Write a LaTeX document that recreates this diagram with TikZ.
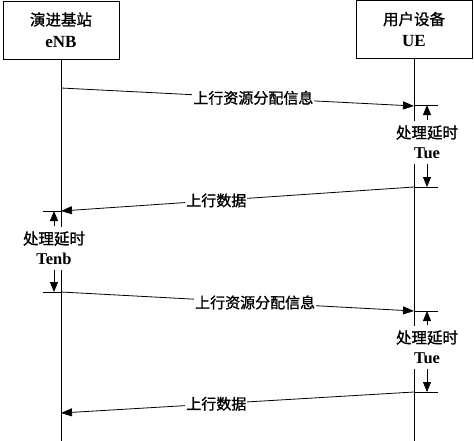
\documentclass[tikz,border=0pt]{standalone}
\usepackage{fontspec}
\setmainfont{Liberation Serif}
\newfontfamily\cjk[FakeBold=1.2]{Noto Sans CJK SC}
\usetikzlibrary{arrows.meta}
\begin{document}
\begin{tikzpicture}[x=1pt,y=-1pt,
  box/.style={draw, line width=0.9pt, minimum width=116pt, minimum height=58pt, align=center, inner sep=0pt,
    font=\fontsize{15.5}{22}\selectfont},
  life/.style={line width=0.9pt},
  msg/.style={draw, line width=0.8pt, -{Triangle[length=11pt,width=8pt]}},
  lbl/.style={fill=white, inner sep=1pt, font=\cjk\fontsize{15}{16}\selectfont},
  delay/.style={fill=white, align=center, inner sep=1pt, minimum height=43pt, font=\fontsize{15.5}{20}\selectfont},
  dly/.style={line width=0.8pt, -{Triangle[length=10pt,width=8pt]}},
  tick/.style={line width=0.8pt},
  lat/.style={}]
\useasboundingbox (0,0) rectangle (474,440);
% actors
\node[box] (enb) at (61,30) {{\cjk 演进基站}\\{\fontsize{17}{22}\selectfont\bfseries eNB}};
\node[box] (ue) at (414,29.5) {{\cjk 用户设备}\\{\fontsize{17}{22}\selectfont\bfseries UE}};
\coordinate (enbend) at (61,441);
\coordinate (ueend) at (414,441);
\draw[life] (enb.south) -- (enbend);
\draw[life] (ue.south) -- (ueend);
% message 1
\coordinate (m1s) at (61,88);
\coordinate (m1e) at (414,106);
\draw[msg] (m1s) -- node[lbl, pos=0.545] (l1) {上行资源分配信息} (m1e);
% UE delay 1
\coordinate (u1a) at (414,105);
\coordinate (u1b) at (438,105);
\coordinate (u1c) at (414,187);
\coordinate (u1d) at (438,187);
\draw[tick] (u1a) -- (u1b);
\draw[tick] (u1c) -- (u1d);
\node[delay] (d1) at (427,142) {{\cjk 处理延时}\\{\fontsize{16.5}{20}\selectfont\bfseries Tue}};
\draw[dly] (d1.north) -- (d1.north |- u1a);
\draw[dly] (d1.south) -- (d1.south |- u1c);
% message 2
\coordinate (m2s) at (414,187);
\coordinate (m2e) at (61,211);
\draw[msg] (m2s) -- node[lbl, pos=0.56] (l2) {上行数据} (m2e);
% eNB delay
\coordinate (e1a) at (43,211);
\coordinate (e1b) at (61,211);
\coordinate (e1c) at (43,292);
\coordinate (e1d) at (61,292);
\draw[tick] (e1a) -- (e1b);
\draw[tick] (e1c) -- (e1d);
\node[delay] (d2) at (54,248) {{\cjk 处理延时}\\{\fontsize{16.5}{20}\selectfont\bfseries Tenb}};
\draw[dly] (d2.north) -- (d2.north |- e1a);
\draw[dly] (d2.south) -- (d2.south |- e1c);
% message 3
\coordinate (m3s) at (61,292);
\coordinate (m3e) at (414,311);
\draw[msg] (m3s) -- node[lbl, pos=0.55] (l3) {上行资源分配信息} (m3e);
% UE delay 2
\coordinate (u2a) at (414,311);
\coordinate (u2b) at (438,311);
\coordinate (u2c) at (414,392);
\coordinate (u2d) at (438,392);
\draw[tick] (u2a) -- (u2b);
\draw[tick] (u2c) -- (u2d);
\node[delay] (d3) at (427,347) {{\cjk 处理延时}\\{\fontsize{16.5}{20}\selectfont\bfseries Tue}};
\draw[dly] (d3.north) -- (d3.north |- u2a);
\draw[dly] (d3.south) -- (d3.south |- u2c);
% message 4
\coordinate (m4s) at (414,392);
\coordinate (m4e) at (61,413);
\draw[msg] (m4s) -- node[lbl, pos=0.56] (l4) {上行数据} (m4e);
\end{tikzpicture}
\end{document}
